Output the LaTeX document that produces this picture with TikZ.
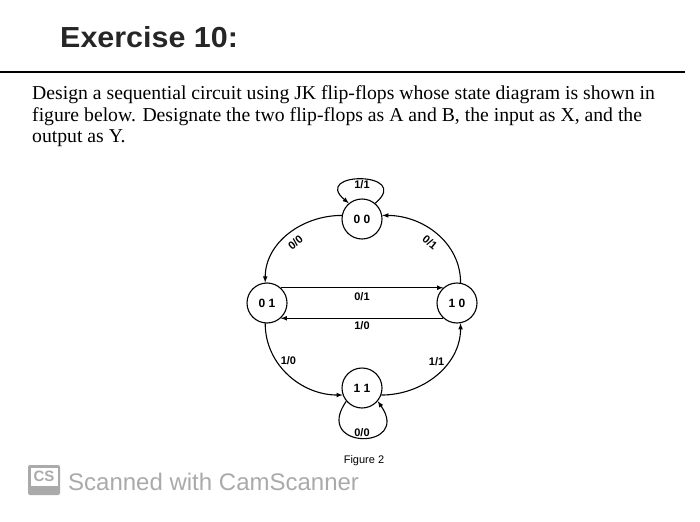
\documentclass[tikz,border=0pt]{standalone}
\usepackage{fontspec}
\setmainfont{Liberation Serif}
\setsansfont{Liberation Sans}
\usetikzlibrary{arrows}
\definecolor{camgray}{RGB}{170,170,170}

\begin{document}
\begin{tikzpicture}[x=1pt,y=1pt,>=latex]
	\tikzstyle{state}=[circle, draw, line width=1.1pt, minimum size=40pt, inner sep=0pt, font=\sffamily\bfseries\fontsize{12}{12}\selectfont]
	\tikzstyle{lbl}=[inner sep=1pt, font=\sffamily\bfseries\fontsize{11}{11}\selectfont]
	\tikzstyle{arc}=[line width=1.1pt, ->]
	\tikzstyle{txt}=[anchor=base west, inner sep=0pt, font=\fontsize{19.7}{21}\selectfont]
	\useasboundingbox (0,0) rectangle (700,-521);
	% heading
	\node (title) [anchor=base west, inner sep=0pt, xscale=1.05, text=black!85, font=\sffamily\bfseries\fontsize{29}{29}\selectfont] at (60,-48) {Exercise 10:};
	\draw[line width=1.8pt] (0,-72) -- (685,-72);
	\node (par1) [txt] at (32,-100) {Design a sequential circuit using JK flip-flops whose state diagram is shown in};
	\node (par2) [txt] at (32,-121.5) {figure below. Designate the two flip-flops as A and B, the input as X, and the};
	\node (par3) [txt] at (32,-143) {output as Y.};
	% states
	\node (s00) [state] at (362,-219) {0 0};
	\node (s01) [state] at (267,-303) {0 1};
	\node (s10) [state] at (457,-303) {1 0};
	\node (s11) [state] at (362,-388) {1 1};
	% transitions
	\draw[arc] (s00.50) to[out=40,in=140,distance=50] node[lbl,below] {1/1} (s00.130);
	\draw[arc] (s00.170) to[out=180,in=90] node[lbl,sloped,below=5pt] {0/0} (s01.95);
	\draw[arc] (s10.80) to[out=90,in=0] node[lbl,sloped,below=5pt] {0/1} (s00.10);
	\draw[arc] (s01.48) -- node[lbl,below=3pt] {0/1} (s10.132);
	\draw[arc] (s10.228) -- node[lbl,below=2pt] {1/0} (s01.-48);
	\draw[arc] (s01.265) to[out=270,in=180] node[lbl,above=8pt] {1/0} (s11.200);
	\draw[arc] (s11.340) to[out=0,in=270] node[lbl,above=8pt] {1/1} (s10.280);
	\draw[arc] (s11.220) to[out=235,in=305,distance=60] node[lbl,above] {0/0} (s11.320);
	\node (fig) [font=\sffamily\fontsize{11}{11}\selectfont] at (364,-461) {Figure 2};
	% scanner mark
	\fill[camgray, rounded corners=2pt] (28,-465) rectangle (60,-495);
	\fill[white] (30.5,-467.5) rectangle (57.5,-486);
	\node (cs) [text=camgray, font=\sffamily\bfseries\fontsize{15}{15}\selectfont] at (44,-476.5) {CS};
	\node (scan) [anchor=base west, inner sep=0pt, text=camgray, font=\sffamily\fontsize{24}{24}\selectfont] at (68,-490) {Scanned with CamScanner};
\end{tikzpicture}
\end{document}
